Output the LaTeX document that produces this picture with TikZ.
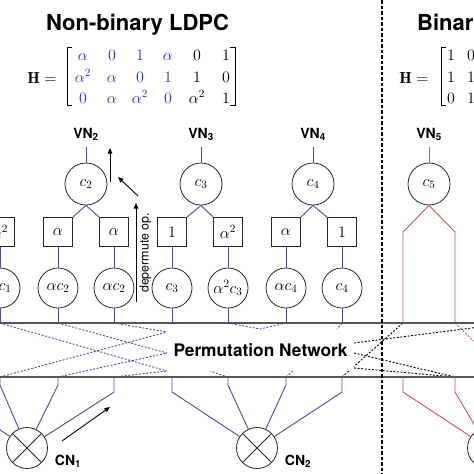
\RequirePackage{fix-cm}
\documentclass[tikz,border=0pt]{standalone}
\usepackage{fontspec}
\usepackage{amsmath}
\newfontfamily\hv{TeX Gyre Heros}
\usetikzlibrary{arrows.meta}
\definecolor{lblue}{RGB}{72,72,175}
\definecolor{mblue}{RGB}{45,45,200}
\definecolor{lred}{RGB}{205,80,90}
\definecolor{pgray}{RGB}{85,85,85}
\newcommand\mathsz{\fontsize{16}{18}\selectfont}
\begin{document}
\begin{tikzpicture}[x=1pt,y=-1pt,
  bl/.style={draw=lblue, line width=0.9pt},
  rl/.style={draw=lred, line width=0.9pt},
  pdash/.style={line width=0.9pt, dash pattern=on 2pt off 1.6pt},
  vn/.style={circle, draw=black!85, line width=0.8pt, minimum size=42pt, inner sep=0pt, font=\mathsz},
  mn/.style={circle, draw=black!85, line width=0.8pt, minimum size=40pt, inner sep=0pt, font=\mathsz},
  wb/.style={rectangle, draw=black!85, line width=0.8pt, minimum size=29pt, inner sep=0pt, font=\mathsz},
  cn/.style={circle, draw=black!85, line width=0.8pt, minimum size=41pt, inner sep=0pt,
    path picture={\draw[line width=0.8pt, black!85] (path picture bounding box.north west) -- (path picture bounding box.south east) (path picture bounding box.north east) -- (path picture bounding box.south west);}},
  lab/.style={font=\hv\bfseries\fontsize{14}{16}\selectfont, anchor=base, inner sep=0pt},
  ent/.style={font=\mathsz, anchor=base, inner sep=0pt},
  arr/.style={-{Triangle[length=5.5pt,width=4.5pt]}, line width=0.9pt},
  sep/.style={line width=1.8pt, dash pattern=on 3.5pt off 2pt},
  hline/.style={draw=pgray, line width=1.6pt},
]
\useasboundingbox (0,0) rectangle (474,474);
\clip (0,0) rectangle (474,474);

% titles
\node[anchor=base, inner sep=0pt, font=\hv\bfseries\fontsize{22}{24}\selectfont] (title1) at (137.5,30) {Non-binary LDPC};
\node[anchor=base west, inner sep=0pt, font=\hv\bfseries\fontsize{22}{24}\selectfont] (title2) at (417,30) {Binary LDPC};

% non-binary matrix
\node[ent] (hnb) at (42,83) {$\mathbf{H} =$};
\draw[line width=1pt] (72,47) -- (67,47) -- (67,105) -- (72,105);
\draw[line width=1pt] (230,47) -- (235,47) -- (235,105) -- (230,105);
\node[ent,text=mblue] (m11) at (83,60) {$\alpha$};
\node[ent,text=mblue] (m12) at (112,60) {$0$};
\node[ent,text=mblue] (m13) at (140,60) {$1$};
\node[ent,text=mblue] (m14) at (168,60) {$\alpha$};
\node[ent] (m15) at (197,60) {$0$};
\node[ent] (m16) at (226,60) {$1$};
\node[ent,text=mblue] (m21) at (83,82) {$\alpha^2$};
\node[ent,text=mblue] (m22) at (112,82) {$\alpha$};
\node[ent,text=mblue] (m23) at (140,82) {$0$};
\node[ent,text=mblue] (m24) at (168,82) {$1$};
\node[ent] (m25) at (197,82) {$1$};
\node[ent] (m26) at (226,82) {$0$};
\node[ent,text=mblue] (m31) at (83,103) {$0$};
\node[ent,text=mblue] (m32) at (112,103) {$\alpha$};
\node[ent,text=mblue] (m33) at (140,103) {$\alpha^2$};
\node[ent,text=mblue] (m34) at (168,103) {$0$};
\node[ent] (m35) at (197,103) {$\alpha^2$};
\node[ent] (m36) at (226,103) {$1$};

% binary matrix
\node[ent] (hb) at (414,83) {$\mathbf{H} =$};
\draw[line width=1pt] (446,47) -- (441,47) -- (441,105) -- (446,105);
\node[ent] (n11) at (451,60) {$1$};
\node[ent] (n12) at (471,60) {$0$};
\node[ent] (n21) at (451,82) {$1$};
\node[ent] (n22) at (471,82) {$1$};
\node[ent] (n31) at (451,103) {$0$};
\node[ent] (n32) at (471,103) {$1$};

% VN labels and VN circles
\node[lab] (l2) at (86,138) {VN\textsubscript{2}};
\node[lab] (l3) at (201,138) {VN\textsubscript{3}};
\node[lab] (l4) at (313,138) {VN\textsubscript{4}};
\node[lab] (l5) at (429,138) {VN\textsubscript{5}};
\node[vn] (v2) at (86,184) {$c_2$};
\node[vn] (v3) at (201,184) {$c_3$};
\node[vn] (v4) at (313,184) {$c_4$};
\node[vn] (v5) at (429,184) {$c_5$};
\draw[bl] ([yshift=-9pt]l2.base) -- (v2);
\draw[bl] ([yshift=-9pt]l3.base) -- (v3);
\draw[bl] ([yshift=-9pt]l4.base) -- (v4);
\draw[rl] ([yshift=-9pt]l5.base) -- (v5);

% weight boxes
\node[wb] (b1b) at (0,232) {$\alpha^2$};
\node[wb] (b2a) at (58,232) {$\alpha$};
\node[wb] (b2b) at (114,232) {$\alpha$};
\node[wb] (b3a) at (172,232) {$1$};
\node[wb] (b3b) at (228,232) {$\alpha^2$};
\node[wb] (b4a) at (286,232) {$\alpha$};
\node[wb] (b4b) at (342,232) {$1$};
\draw[bl] (v2.south) -- (b2a.north east);
\draw[bl] (v2.south) -- (b2b.north west);
\draw[bl] (v3.south) -- (b3a.north east);
\draw[bl] (v3.south) -- (b3b.north west);
\draw[bl] (v4.south) -- (b4a.north east);
\draw[bl] (v4.south) -- (b4b.north west);

% multiplied symbols
\node[mn] (u1b) at (0,288) {$\alpha c_1$};
\node[mn] (u2a) at (58,288) {$\alpha c_2$};
\node[mn] (u2b) at (114,288) {$\alpha c_2$};
\node[mn] (u3a) at (172,288) {$c_3$};
\node[mn] (u3b) at (228,288) {$\alpha^2 c_3$};
\node[mn] (u4a) at (286,288) {$\alpha c_4$};
\node[mn] (u4b) at (342,288) {$c_4$};
\foreach \b/\u in {b1b/u1b,b2a/u2a,b2b/u2b,b3a/u3a,b3b/u3b,b4a/u4a,b4b/u4b}
  \draw[bl] (\b) -- (\u);

% ports of the permutation network
\foreach \x in {0,58,114,172,228,286,342,403,455,511} {
  \coordinate (t\x) at (\x,323);
  \coordinate (p\x) at (\x,377);
}
\coordinate (pm56) at (-56,377);
\foreach \u/\x in {u1b/0,u2a/58,u2b/114,u3a/172,u3b/228,u4a/286,u4b/342}
  \draw[bl] (\u) -- (t\x);

% red (binary) variable node
\coordinate (r1) at (403,232);
\coordinate (r2) at (455,232);
\draw[rl] (v5.south) -- (r1) -- (t403);
\draw[rl] (v5.south) -- (r2) -- (t455);

% permutation stubs
\coordinate (el1) at (167,332);
\coordinate (el2) at (167,353);
\coordinate (el3) at (167,371);
\coordinate (et1) at (260,329);
\coordinate (et2) at (337,329);
\coordinate (eb1) at (210,371);
\coordinate (eb2) at (293,371);
\coordinate (er1) at (354,343);
\coordinate (er2) at (354,353);
\coordinate (er3) at (354,368);
\draw[pdash, lblue] (t0) -- (el3);
\draw[pdash, lblue] (p114) -- (el3);
\draw[pdash, lblue] (p0) -- (el1);
\draw[pdash, lblue] (t114) -- (el1);
\draw[pdash, lblue] (t58) -- (el2);
\draw[pdash, lblue] (p58) -- (el2);
\draw[pdash, lblue] (t228) -- (et1);
\draw[pdash, lblue] (t286) -- (et1);
\draw[pdash, lblue] (t342) -- (et2);
\draw[pdash, lblue] (p228) -- (eb1);
\draw[pdash, lblue] (p286) -- (eb2);
\draw[pdash, black] (er1) -- (t511);
\draw[pdash, black] (er2) -- (p455);
\draw[pdash, black] (er3) -- (p455);
\draw[pdash, black] (p342) -- (t403);
\draw[pdash, lred] (t455) -- (p511);

\node[font=\hv\bfseries\fontsize{17.3}{19}\selectfont, fill=white, minimum width=186pt, minimum height=41pt, inner sep=0pt] (perm) at (260.5,350) {Permutation Network};

\draw[hline] (0,323) -- (474,323);
\draw[hline] (0,377) -- (474,377);

% check nodes
\node[cn] (cn1) at (27,448) {};
\node[cn] (cn2) at (257,448) {};
\node[cn] (cn3) at (488,448) {};
\node[lab] (cl1) at (68,465) {CN\textsubscript{1}};
\node[lab] (cl2) at (298,465) {CN\textsubscript{2}};

\draw[bl] (pm56) -- (-56,392) -- (cn1);
\draw[bl] (p0) -- (0,385) -- (cn1);
\draw[bl] (p58) -- (58,385) -- (cn1);
\draw[bl] (p114) -- (114,392) -- (cn1);
\draw[bl] (p172) -- (172,392) -- (cn2);
\draw[bl] (p228) -- (228,385) -- (cn2);
\draw[bl] (p286) -- (286,385) -- (cn2);
\draw[bl] (p342) -- (342,392) -- (cn2);
\draw[rl] (p403) -- (403,392) -- (cn3);
\draw[rl] (p455) -- (455,392) -- (cn3);

% arrows
\coordinate (a1s) at (110,182);
\coordinate (a1e) at (110,148);
\coordinate (a2s) at (138,196);
\coordinate (a2e) at (118,177);
\coordinate (a3s) at (136,302);
\coordinate (a3e) at (136,203);
\coordinate (a4s) at (62,441);
\coordinate (a4e) at (110,407);
\draw[arr] (a1s) -- (a1e);
\draw[arr] (a2s) -- (a2e);
\draw[arr] (a3s) -- (a3e);
\draw[arr] (a4s) -- (a4e);
\node[rotate=90, inner sep=0pt, font=\hv\fontsize{12.4}{14}\selectfont] (dep) at (145.5,253) {depermute op.};

% separator
\draw[sep] (382,0) -- (382,474);
\end{tikzpicture}
\end{document}
